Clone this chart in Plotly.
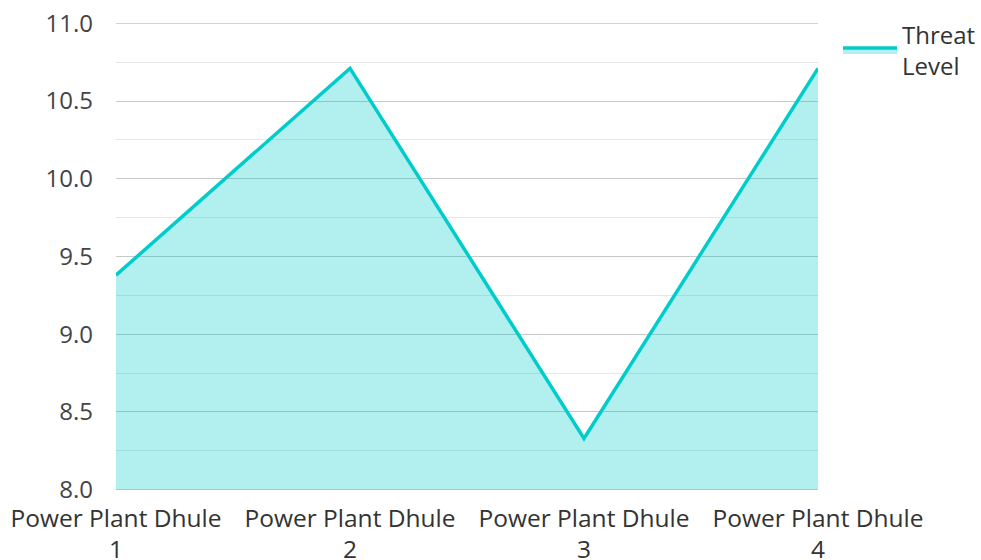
import plotly.graph_objects as go

categories = ["Power Plant Dhule<br>1", "Power Plant Dhule<br>2", "Power Plant Dhule<br>3", "Power Plant Dhule<br>4"]
threat_level = [9.38, 10.71, 8.33, 10.71]
series_name = "Threat<br>Level"
y_ticks = [8.0, 8.5, 9.0, 9.5, 10.0, 10.5, 11.0]

fig = go.Figure()
fig.add_trace(go.Scatter(
    x=categories, y=threat_level, name=series_name, mode="lines",
    line=dict(color="#00cccb", width=3.5),
    fill="tozeroy", fillcolor="rgba(0,206,203,0.30)",
))

# edge gridlines (plotly omits gridlines that sit on the plot-area border)
for v in (y_ticks[0], y_ticks[-1]):
    fig.add_hline(y=v, line=dict(color="#c8c8c8", width=1), layer="below")

fig.update_layout(
    width=981, height=560,
    margin=dict(l=116, r=163, t=23, b=70, autoexpand=False),
    plot_bgcolor="white", paper_bgcolor="white",
    font=dict(family="Open Sans, Noto Sans, sans-serif", size=24, color="#444444"),
    showlegend=True,
    legend=dict(x=1.0285, y=1.023, xanchor="left", yanchor="top", itemwidth=54,
                font=dict(size=24, color="#333333"), bgcolor="rgba(0,0,0,0)"),
    xaxis=dict(type="category", range=[0, 3], showgrid=False, zeroline=False, automargin=False,
               showline=False, ticks="", ticklabelstandoff=11,
               tickfont=dict(size=24.5, color="#333333")),
    yaxis=dict(range=[7.998, 11.002], tickvals=y_ticks,
               tickformat=".1f", showgrid=True, automargin=False,
               gridcolor="#c8c8c8", gridwidth=1, zeroline=False, showline=False,
               ticks="", ticklabelstandoff=22,
               minor=dict(dtick=0.25, showgrid=True, gridcolor="#e6e6e6", gridwidth=1),
               tickfont=dict(size=24, color="#444444")),
)

fig.write_html("out.html", config={"displayModeBar": False},
               post_script="document.body.style.margin='0';")
